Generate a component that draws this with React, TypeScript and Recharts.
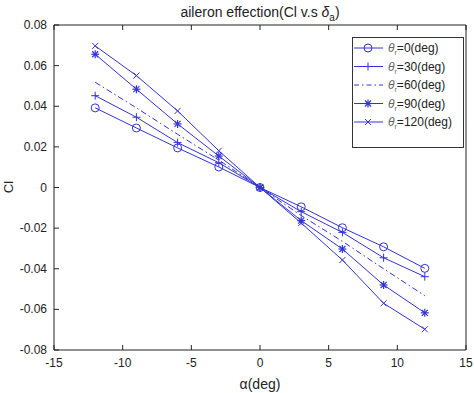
import React from "react";
import { LineChart, Line, XAxis, YAxis, Legend } from "recharts";

const alphaDeg = [-12, -9, -6, -3, 0, 3, 6, 9, 12];
const cl0 = [0.0392, 0.0293, 0.0195, 0.0101, 0, -0.0095, -0.0198, -0.0292, -0.0398];
const cl30 = [0.0452, 0.0346, 0.0221, 0.0122, 0, -0.0119, -0.0221, -0.0346, -0.0439];
const cl60 = [0.0518, 0.0392, 0.0262, 0.0135, 0, -0.0138, -0.0265, -0.04, -0.0533];
const cl90 = [0.0656, 0.0484, 0.0313, 0.0155, 0, -0.0163, -0.0303, -0.048, -0.0617];
const cl120 = [0.0697, 0.0551, 0.0377, 0.0181, 0, -0.0175, -0.0357, -0.057, -0.0698];

const xTicks = [-15, -10, -5, 0, 5, 10, 15];
const yTicks = [-0.08, -0.06, -0.04, -0.02, 0, 0.02, 0.04, 0.06, 0.08];
const seriesLabels = ["0", "30", "60", "90", "120"];

const data = alphaDeg.map((a, i) => ({
  a,
  s0: cl0[i],
  s30: cl30[i],
  s60: cl60[i],
  s90: cl90[i],
  s120: cl120[i],
}));

const BLUE = "#3232d8";
const FONT = "'Liberation Sans', Arial, sans-serif";

type MarkerKind = "o" | "+" | "none" | "*" | "x";

const Marker = ({ kind, cx, cy }: { kind: MarkerKind; cx: number; cy: number }) => {
  if (cx == null || cy == null || kind === "none") return <g />;
  const r = 4;
  if (kind === "o")
    return <circle cx={cx} cy={cy} r={r} fill="none" stroke={BLUE} strokeWidth={1} />;
  if (kind === "+")
    return (
      <g stroke={BLUE} strokeWidth={1}>
        <line x1={cx - r} y1={cy} x2={cx + r} y2={cy} />
        <line x1={cx} y1={cy - r} x2={cx} y2={cy + r} />
      </g>
    );
  if (kind === "x")
    return (
      <g stroke={BLUE} strokeWidth={1}>
        <line x1={cx - 3} y1={cy - 3} x2={cx + 3} y2={cy + 3} />
        <line x1={cx - 3} y1={cy + 3} x2={cx + 3} y2={cy - 3} />
      </g>
    );
  return (
    <g stroke={BLUE} strokeWidth={1.2}>
      <line x1={cx - r} y1={cy} x2={cx + r} y2={cy} />
      <line x1={cx} y1={cy - r} x2={cx} y2={cy + r} />
      <line x1={cx - 3} y1={cy - 3} x2={cx + 3} y2={cy + 3} />
      <line x1={cx - 3} y1={cy + 3} x2={cx + 3} y2={cy - 3} />
    </g>
  );
};

const kinds: MarkerKind[] = ["o", "+", "none", "*", "x"];
const keys = ["s0", "s30", "s60", "s90", "s120"];

const BottomTick = (props: any) => {
  const { x, y, payload } = props;
  return (
    <g>
      <line x1={x} y1={y} x2={x} y2={y - 5} stroke="#222" />
      <text x={x} y={y + 17} textAnchor="middle" fontSize={12} fontFamily={FONT} fill="#222">
        {payload.value}
      </text>
    </g>
  );
};
const TopTick = (props: any) => {
  const { x, y } = props;
  return <line x1={x} y1={y} x2={x} y2={y + 5} stroke="#222" />;
};
const LeftTick = (props: any) => {
  const { x, y, payload } = props;
  const v = payload.value;
  const label = Math.abs(v) < 1e-9 ? "0" : v.toFixed(2);
  return (
    <g>
      <line x1={x} y1={y} x2={x + 5} y2={y} stroke="#222" />
      <text x={x - 7} y={y + 4} textAnchor="end" fontSize={12} fontFamily={FONT} fill="#222">
        {label}
      </text>
    </g>
  );
};
const RightTick = (props: any) => {
  const { x, y } = props;
  return <line x1={x} y1={y} x2={x - 5} y2={y} stroke="#222" />;
};

const LegendBox = () => {
  const rowH = 18.5;
  return (
    <svg width={112} height={111} style={{ display: "block" }}>
      <rect x={0.5} y={0.5} width={111} height={110} fill="#fff" stroke="#333" />
      {seriesLabels.map((s, i) => {
        const cy = 11 + i * rowH;
        return (
          <g key={s}>
            <line
              x1={2}
              y1={cy}
              x2={31}
              y2={cy}
              stroke={BLUE}
              strokeWidth={1}
              strokeDasharray={kinds[i] === "none" ? "5 3 1.5 3" : undefined}
            />
            <Marker kind={kinds[i]} cx={16} cy={cy} />
            <text x={36} y={cy + 4} fontSize={12} fontFamily={FONT} fill="#222">
              <tspan fontStyle="italic" fill="#666">θ</tspan>
              <tspan dy={3} fontSize={7} fill="#666">r</tspan>
              <tspan dy={-3}>={s}(deg)</tspan>
            </text>
          </g>
        );
      })}
    </svg>
  );
};

export default function App() {
  return (
    <div style={{ position: "absolute", left: 0, top: 0, width: 474, height: 393, background: "#fff" }}>
      <LineChart
        width={474}
        height={393}
        data={data}
        margin={{ top: 0, right: 0, bottom: 0, left: 0 }}
      >
        <XAxis
          xAxisId="b"
          dataKey="a"
          type="number"
          domain={[-15, 15]}
          ticks={xTicks}
          height={43}
          tickSize={0}
          tickMargin={0}
          tick={<BottomTick />}
          axisLine={{ stroke: "#222" }}
          interval={0}
          allowDataOverflow
        />
        <XAxis
          xAxisId="t"
          dataKey="a"
          type="number"
          orientation="top"
          domain={[-15, 15]}
          ticks={xTicks}
          height={25}
          tickSize={0}
          tickMargin={0}
          tick={<TopTick />}
          axisLine={{ stroke: "#222" }}
          interval={0}
        />
        <YAxis
          yAxisId="l"
          type="number"
          domain={[-0.08, 0.08]}
          ticks={yTicks}
          width={54}
          tickSize={0}
          tickMargin={0}
          tick={<LeftTick />}
          axisLine={{ stroke: "#222" }}
          interval={0}
          allowDataOverflow
        />
        <YAxis
          yAxisId="r"
          orientation="right"
          type="number"
          domain={[-0.08, 0.08]}
          ticks={yTicks}
          width={8}
          tickSize={0}
          tickMargin={0}
          tick={<RightTick />}
          axisLine={{ stroke: "#222" }}
          interval={0}
        />
        {keys.map((k, i) => (
          <Line
            key={k}
            xAxisId="b"
            yAxisId="l"
            dataKey={k}
            stroke={BLUE}
            strokeWidth={1}
            strokeDasharray={kinds[i] === "none" ? "6 3 1.5 3" : undefined}
            dot={(p: any) => <Marker key={`${k}-${p.index}`} kind={kinds[i]} cx={p.cx} cy={p.cy} />}
            activeDot={false}
            isAnimationActive={false}
          />
        ))}
        <Legend
          layout="vertical"
          align="center"
          verticalAlign="middle"
          content={() => <LegendBox />}
          wrapperStyle={{ position: "absolute", left: 352, top: 37, width: 112, height: 111 }}
        />
      </LineChart>
      <svg
        width={474}
        height={393}
        style={{ position: "absolute", left: 0, top: 0, pointerEvents: "none" }}
      >
        <text x={260} y={17} textAnchor="middle" fontSize={14} fontFamily={FONT} fill="#222">
          aileron effection(Cl v.s <tspan fontStyle="italic">δ</tspan>
          <tspan dy={4} fontSize={10}>a</tspan>
          <tspan dy={-4}>)</tspan>
        </text>
        <text x={260} y={389} textAnchor="middle" fontSize={14} fontFamily={FONT} fill="#222">
          α(deg)
        </text>
        <text
          x={13}
          y={187}
          textAnchor="middle"
          fontSize={13}
          fontFamily={FONT}
          fill="#222"
          transform="rotate(-90 13 187)"
        >
          Cl
        </text>
      </svg>
    </div>
  );
}
